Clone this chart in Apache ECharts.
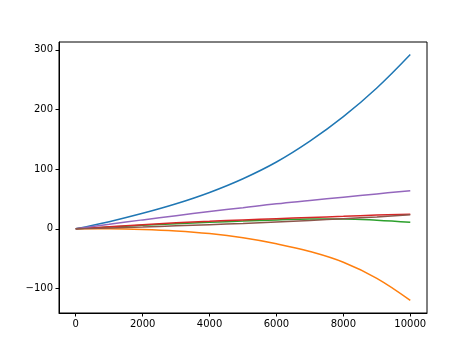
<!DOCTYPE html>
<html>
<head>
<meta charset="utf-8">
<script src="https://cdn.jsdelivr.net/npm/echarts@6/dist/echarts.min.js"></script>
<style>
  html, body { margin: 0; padding: 0; background: #fff; }
  #chart { width: 474px; height: 352px; }
</style>
</head>
<body>
<div id="chart"></div>
<script>
  // x positions read at every 1000
  const xs = [0, 1000, 2000, 3000, 4000, 5000, 6000, 7000, 8000, 9000, 10000]
  const blue = [0, 12, 26, 42, 61, 84, 112, 147, 188, 236, 292]
  const orange = [0, 0, -1, -3.5, -8, -15, -25, -38, -56, -83, -120]
  const green = [0, 3, 6, 8.5, 11, 13, 15, 16.5, 16.5, 14.5, 11]
  const red = [0, 3.5, 7, 10, 12.5, 15, 17, 19, 21, 23, 24.5]
  const purple = [0, 7.5, 15, 22, 29, 35.5, 42, 47.5, 53, 58.5, 64]
  const brown = [0, 1.5, 3, 5, 7, 9, 11.5, 14, 17, 20, 23.5]
  const xTicks = [0, 2000, 4000, 6000, 8000, 10000]
  const yTicks = [-100, 0, 100, 200, 300]

  const colors = ['#1f77b4', '#ff7f0e', '#2ca02c', '#d62728', '#9467bd', '#8c564b']
  const allSeries = [blue, orange, green, red, purple, brown]

  const chart = echarts.init(document.getElementById('chart'), null, { renderer: 'canvas' })

  const axisCommon = {
      type: 'value',
      axisLine: { show: true, onZero: false, lineStyle: { color: '#000', width: 1 } },
      axisTick: { show: true, inside: false, length: 3.5, lineStyle: { color: '#000', width: 1 } },
      axisLabel: { color: '#000', fontSize: 10, fontFamily: 'DejaVu Sans' },
      splitLine: { show: false }
  }

  chart.setOption({
      animation: false,
      grid: {
          left: 59,
          right: 47,
          top: 42,
          bottom: 39,
          show: true,
          borderColor: '#000',
          borderWidth: 1,
          containLabel: false
      },
      xAxis: Object.assign({}, axisCommon, {
          min: -500,
          max: 10500,
          axisTick: Object.assign({}, axisCommon.axisTick, { customValues: xTicks }),
          axisLabel: Object.assign({}, axisCommon.axisLabel, {
              customValues: xTicks,
              margin: 6,
              formatter: v => String(v)
          })
      }),
      yAxis: Object.assign({}, axisCommon, {
          min: -141,
          max: 313,
          axisTick: Object.assign({}, axisCommon.axisTick, { customValues: yTicks }),
          axisLabel: Object.assign({}, axisCommon.axisLabel, {
              customValues: yTicks,
              margin: 6,
              formatter: v => (v < 0 ? '\u2212' + Math.abs(v) : String(v))
          })
      }),
      series: allSeries.map((vals, i) => ({
          type: 'line',
          data: xs.map((x, j) => [x, vals[j]]),
          showSymbol: false,
          smooth: 0.4,
          lineStyle: { color: colors[i], width: 1.5 },
          itemStyle: { color: colors[i] },
          z: 2 + i
      }))
  })
</script>
</body>
</html>
